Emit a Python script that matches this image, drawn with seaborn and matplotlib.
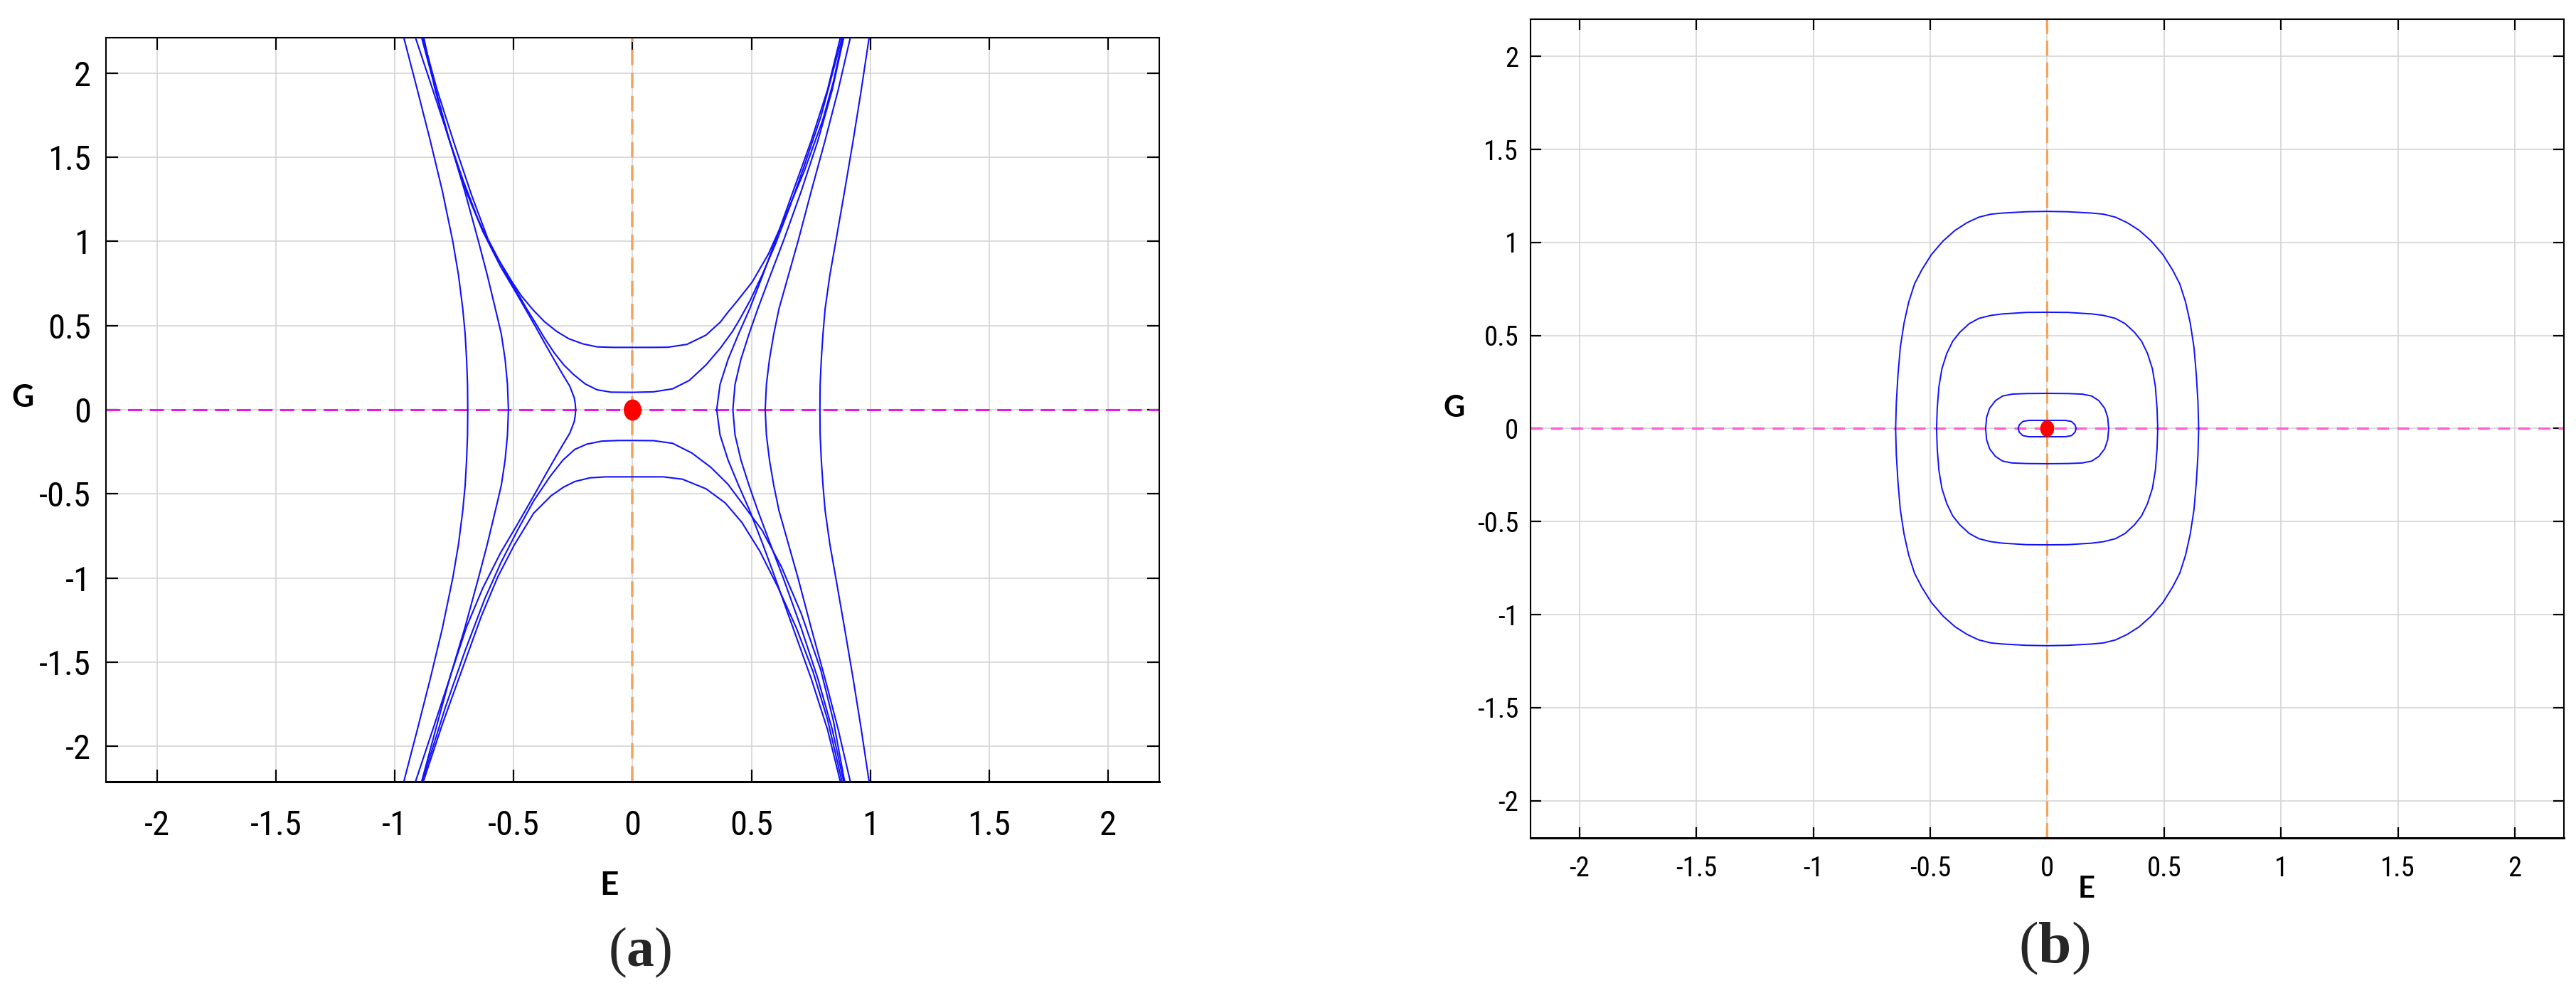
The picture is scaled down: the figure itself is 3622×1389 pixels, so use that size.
import pandas as pd
import matplotlib
matplotlib.use("Agg")
import matplotlib.pyplot as plt
import matplotlib.transforms as mtransforms
from matplotlib import font_manager
from matplotlib.path import Path
import seaborn as sns

# ---- data ----------------------------------------------------------------
TICKS = [-2, -1.5, -1, -0.5, 0, 0.5, 1, 1.5, 2]
TICK_LABELS = ["-2", "-1.5", "-1", "-0.5", "0", "0.5", "1", "1.5", "2"]

# panel (a): sideways branches, sampled on common G levels
a_side_G = [2.21, 1.9, 1.6, 1.3, 1.0, 0.8, 0.6, 0.45, 0.3, 0.15, 0.0,
            -0.15, -0.3, -0.45, -0.6, -0.8, -1.0, -1.3, -1.6, -1.9, -2.21]
a_left1_E = [-0.962, -0.905, -0.851, -0.800, -0.756, -0.732, -0.714, -0.704, -0.698, -0.694, -0.693,
             -0.694, -0.698, -0.704, -0.714, -0.732, -0.756, -0.800, -0.851, -0.905, -0.962]
a_left2_E = [-0.913, -0.840, -0.770, -0.706, -0.648, -0.611, -0.577, -0.552, -0.536, -0.526, -0.522,
             -0.526, -0.536, -0.552, -0.577, -0.611, -0.648, -0.706, -0.770, -0.840, -0.913]
a_right1_E = [0.874, 0.820, 0.752, 0.676, 0.600, 0.548, 0.493, 0.446, 0.402, 0.368, 0.354,
              0.368, 0.402, 0.446, 0.493, 0.548, 0.600, 0.676, 0.752, 0.820, 0.874]
a_right2_E = [0.888, 0.840, 0.780, 0.710, 0.634, 0.580, 0.527, 0.490, 0.456, 0.431, 0.422,
              0.431, 0.456, 0.490, 0.527, 0.580, 0.634, 0.710, 0.780, 0.840, 0.888]
a_right3_E = [0.916, 0.865, 0.810, 0.752, 0.696, 0.656, 0.616, 0.594, 0.576, 0.563, 0.558,
              0.563, 0.576, 0.594, 0.616, 0.656, 0.696, 0.752, 0.810, 0.865, 0.916]
a_right4_E = [0.995, 0.962, 0.928, 0.892, 0.855, 0.830, 0.810, 0.801, 0.794, 0.789, 0.788,
              0.789, 0.794, 0.801, 0.810, 0.830, 0.855, 0.892, 0.928, 0.962, 0.995]

# inner sideways branch (vertex near E=-0.24)
a_left3_G = [2.21, 1.9, 1.59, 1.29, 1.06, 0.85, 0.69, 0.592, 0.493, 0.394, 0.295, 0.21, 0.14,
             0.07, 0.035, 0.0, -0.035, -0.07, -0.14, -0.21, -0.295, -0.394, -0.493, -0.592,
             -0.69, -0.85, -1.06, -1.29, -1.59, -1.9, -2.21]
a_left3_E = [-0.887, -0.828, -0.768, -0.698, -0.630, -0.555, -0.488, -0.448, -0.408, -0.369,
             -0.329, -0.294, -0.264, -0.245, -0.241, -0.239, -0.241, -0.245, -0.264, -0.294,
             -0.329, -0.369, -0.408, -0.448, -0.488, -0.555, -0.630, -0.698, -0.768, -0.828,
             -0.887]

# upper branches
a_up1_E = [-0.878, -0.830, -0.775, -0.712, -0.649, -0.590, -0.538, -0.508, -0.468, -0.418,
           -0.369, -0.319, -0.269, -0.209, -0.149, -0.08, 0.0, 0.08, 0.149, 0.229, 0.309,
           0.369, 0.400, 0.440, 0.504, 0.572, 0.641, 0.723, 0.800, 0.845, 0.885]
a_up1_G = [2.21, 1.9, 1.62, 1.36, 1.129, 0.95, 0.833, 0.762, 0.677, 0.592,
           0.521, 0.465, 0.422, 0.391, 0.373, 0.370, 0.370, 0.370, 0.371, 0.388, 0.443,
           0.52, 0.577, 0.645, 0.76, 0.926, 1.144, 1.42, 1.72, 1.95, 2.21]
a_up2_E = [-0.882, -0.822, -0.752, -0.677, -0.608, -0.528, -0.488, -0.448, -0.408, -0.369,
           -0.329, -0.289, -0.249, -0.199, -0.149, -0.09, 0.0, 0.088, 0.169, 0.239, 0.309,
           0.369, 0.420, 0.450, 0.495, 0.545, 0.600, 0.660, 0.720, 0.792, 0.881]
a_up2_G = [2.21, 1.9, 1.59, 1.275, 1.013, 0.797, 0.705, 0.606, 0.514, 0.422,
           0.337, 0.266, 0.21, 0.153, 0.118, 0.104, 0.103, 0.106, 0.124, 0.174, 0.266,
           0.365, 0.464, 0.535, 0.65, 0.80, 0.98, 1.20, 1.44, 1.74, 2.21]

# lower branches
a_dn1_E = [-0.885, -0.787, -0.704, -0.622, -0.553, -0.484, -0.416, -0.347, -0.293, -0.243,
           -0.193, -0.13, -0.06, 0.0, 0.088, 0.169, 0.249, 0.329, 0.400, 0.460, 0.545,
           0.627, 0.710, 0.792, 0.845, 0.892]
a_dn1_G = [-2.21, -1.767, -1.431, -1.125, -0.907, -0.717, -0.542, -0.397, -0.30, -0.236,
           -0.205, -0.187, -0.183, -0.183, -0.184, -0.20, -0.257, -0.342, -0.441, -0.554,
           -0.717, -0.936, -1.213, -1.548, -1.85, -2.21]
a_dn2_E = [-0.880, -0.800, -0.718, -0.636, -0.567, -0.498, -0.416, -0.343, -0.290, -0.243,
           -0.180, -0.112, 0.0, 0.129, 0.210, 0.309, 0.390, 0.460, 0.535, 0.610, 0.690,
           0.760, 0.820, 0.881]
a_dn2_G = [-2.21, -1.869, -1.548, -1.227, -0.994, -0.805, -0.615, -0.512, -0.46, -0.427,
           -0.405, -0.399, -0.399, -0.399, -0.413, -0.47, -0.554, -0.67, -0.84, -1.05,
           -1.30, -1.56, -1.84, -2.21]

# panel (b): closed orbits around the centre
b_orb1_E = [0.648, 0.645, 0.638, 0.628, 0.612, 0.592, 0.567, 0.536, 0.495, 0.445, 0.394,
            0.343, 0.292, 0.241, 0.19, 0.089, 0.0,
            -0.089, -0.19, -0.241, -0.292, -0.343, -0.394, -0.445, -0.495, -0.536, -0.567,
            -0.592, -0.612, -0.628, -0.638, -0.645, -0.648,
            -0.645, -0.638, -0.628, -0.612, -0.592, -0.567, -0.536, -0.495, -0.445, -0.394,
            -0.343, -0.292, -0.241, -0.19, -0.089, 0.0,
            0.089, 0.19, 0.241, 0.292, 0.343, 0.394, 0.445, 0.495, 0.536, 0.567,
            0.592, 0.612, 0.628, 0.638, 0.645, 0.648]
b_orb1_G = [0.0, 0.142, 0.288, 0.436, 0.567, 0.680, 0.778, 0.853, 0.935, 1.008, 1.065,
            1.106, 1.136, 1.152, 1.158, 1.165, 1.167,
            1.165, 1.158, 1.152, 1.136, 1.106, 1.065, 1.008, 0.935, 0.853, 0.778,
            0.680, 0.567, 0.436, 0.288, 0.142, 0.0,
            -0.142, -0.288, -0.436, -0.567, -0.680, -0.778, -0.853, -0.935, -1.008, -1.065,
            -1.106, -1.136, -1.152, -1.158, -1.165, -1.167,
            -1.165, -1.158, -1.152, -1.136, -1.106, -1.065, -1.008, -0.935, -0.853, -0.778,
            -0.680, -0.567, -0.436, -0.288, -0.142, 0.0]
b_orb2_E = [0.473, 0.470, 0.463, 0.450, 0.429, 0.404, 0.373, 0.333, 0.292, 0.241, 0.19, 0.089, 0.0,
            -0.089, -0.19, -0.241, -0.292, -0.333, -0.373, -0.404, -0.429, -0.450, -0.463, -0.470,
            -0.473,
            -0.470, -0.463, -0.450, -0.429, -0.404, -0.373, -0.333, -0.292, -0.241, -0.19, -0.089,
            0.0,
            0.089, 0.19, 0.241, 0.292, 0.333, 0.373, 0.404, 0.429, 0.450, 0.463, 0.470, 0.473]
b_orb2_G = [0.0, 0.109, 0.224, 0.322, 0.404, 0.469, 0.518, 0.564, 0.592, 0.608, 0.616, 0.624, 0.625,
            0.624, 0.616, 0.608, 0.592, 0.564, 0.518, 0.469, 0.404, 0.322, 0.224, 0.109,
            0.0,
            -0.109, -0.224, -0.322, -0.404, -0.469, -0.518, -0.564, -0.592, -0.608, -0.616, -0.624,
            -0.625,
            -0.624, -0.616, -0.608, -0.592, -0.564, -0.518, -0.469, -0.404, -0.322, -0.224, -0.109,
            0.0]
b_orb3_E = [0.263, 0.259, 0.246, 0.221, 0.19, 0.15, 0.089, 0.0, -0.089, -0.15, -0.19, -0.221,
            -0.246, -0.259, -0.263, -0.259, -0.246, -0.221, -0.19, -0.15, -0.089, 0.0, 0.089,
            0.15, 0.19, 0.221, 0.246, 0.259, 0.263]
b_orb3_G = [0.0, 0.06, 0.109, 0.15, 0.175, 0.185, 0.188, 0.189, 0.188, 0.185, 0.175, 0.15,
            0.109, 0.06, 0.0, -0.06, -0.109, -0.15, -0.175, -0.185, -0.188, -0.189, -0.188,
            -0.185, -0.175, -0.15, -0.109, -0.06, 0.0]
b_orb4_E = [0.124, 0.119, 0.104, 0.078, 0.0, -0.078, -0.104, -0.119, -0.124, -0.119, -0.104,
            -0.078, 0.0, 0.078, 0.104, 0.119, 0.124]
b_orb4_G = [0.0, 0.02, 0.038, 0.044, 0.044, 0.044, 0.038, 0.02, 0.0, -0.02, -0.038,
            -0.044, -0.044, -0.044, -0.038, -0.02, 0.0]

EQUILIBRIUM = (0.0, 0.0)

# ---- styling -------------------------------------------------------------
sns.set_theme(style="whitegrid")

installed = {f.name for f in font_manager.fontManager.ttflist}
narrow = next((n for n in ["Liberation Sans Narrow", "Arial Narrow", "Roboto Condensed",
                           "Open Sans Condensed"] if n in installed), "Liberation Sans")
plt.rcParams["font.family"] = [narrow, "Liberation Sans", "DejaVu Sans"]
plt.rcParams["font.stretch"] = "condensed"
plt.rcParams["mathtext.fontset"] = "custom"
plt.rcParams["mathtext.rm"] = "Liberation Serif"
plt.rcParams["mathtext.bf"] = "Liberation Serif:bold"

BLUE = "#1010ff"
GRID = "#d4d4d4"


def style_axes(ax, lim_x, lim_y, tick_size, pad_x, pad_y, tick_len):
    ax.set_xlim(-lim_x, lim_x)
    ax.set_ylim(-lim_y, lim_y)
    ax.set_xticks(TICKS)
    ax.set_yticks(TICKS)
    ax.set_xticklabels(TICK_LABELS)
    ax.set_yticklabels(TICK_LABELS)
    ax.set_facecolor("white")
    ax.grid(True, color=GRID, linewidth=1.2)
    ax.set_axisbelow(True)
    for s in ax.spines.values():
        s.set_color("black")
        s.set_linewidth(1.5)
        s.set_visible(True)
    ax.spines["bottom"].set_linewidth(2.2)
    ax.tick_params(which="both", direction="in", top=True, right=True, bottom=True,
                   left=True, length=tick_len, width=1.6, color="black",
                   labelcolor="black", labelsize=tick_size)
    ax.tick_params(axis="x", pad=pad_x)
    ax.tick_params(axis="y", pad=pad_y)
    ax.set_xlabel("")
    ax.set_ylabel("")


def draw_curve(ax, e_vals, g_vals, lw):
    df = pd.DataFrame({"E": e_vals, "G": g_vals})
    sns.lineplot(data=df, x="E", y="G", ax=ax, sort=False, estimator=None,
                 color=BLUE, linewidth=lw, zorder=3)


ellipse = Path.unit_circle().transformed(mtransforms.Affine2D().scale(1.0, 1.2))

fig = plt.figure(figsize=(36.22, 13.89), dpi=100)
ax_a = fig.add_axes([0.0411, 0.2088, 0.4089, 0.7531])
ax_b = fig.add_axes([0.5941, 0.1519, 0.4012, 0.8287])

# ---- panel (a) -----------------------------------------------------------
ax_a.axhline(0, color="#e619e6", linewidth=2.2, dashes=(6.5, 3.5), zorder=2)
ax_a.axvline(0, color="#f4a55c", linewidth=2.6, dashes=(6, 3), zorder=2)
for e_vals in [a_left1_E, a_left2_E, a_right1_E, a_right2_E, a_right3_E, a_right4_E]:
    draw_curve(ax_a, e_vals, a_side_G, 1.5)
draw_curve(ax_a, a_left3_E, a_left3_G, 1.5)
draw_curve(ax_a, a_up1_E, a_up1_G, 1.5)
draw_curve(ax_a, a_up2_E, a_up2_G, 1.5)
draw_curve(ax_a, a_dn1_E, a_dn1_G, 1.5)
draw_curve(ax_a, a_dn2_E, a_dn2_G, 1.5)
sns.scatterplot(x=[EQUILIBRIUM[0]], y=[EQUILIBRIUM[1]], ax=ax_a, marker=ellipse,
                s=21.5 ** 2, color="#ff0000", linewidth=0, zorder=5)
style_axes(ax_a, 2.215, 2.21, 35, 28, 15, 12)

# ---- panel (b) -----------------------------------------------------------
ax_b.axhline(0, color="#ff5fd2", linewidth=2.4, dashes=(5, 3.5), zorder=2)
ax_b.axvline(0, color="#f4a55c", linewidth=2.2, dashes=(7, 3), zorder=2)
draw_curve(ax_b, b_orb1_E, b_orb1_G, 1.4)
draw_curve(ax_b, b_orb2_E, b_orb2_G, 1.4)
draw_curve(ax_b, b_orb3_E, b_orb3_G, 1.4)
draw_curve(ax_b, b_orb4_E, b_orb4_G, 1.4)
sns.scatterplot(x=[EQUILIBRIUM[0]], y=[EQUILIBRIUM[1]], ax=ax_b, marker=ellipse,
                s=17 ** 2, color="#ff0000", linewidth=0, zorder=5)
style_axes(ax_b, 2.21, 2.2, 28, 18, 12, 11)

# ---- axis names and panel captions --------------------------------------
lab = dict(family=["Lato", "DejaVu Sans"], fontweight="bold", fontstretch="normal",
           color="black", ha="center", va="center")
fig.text(0.0088, 0.5975, "G", fontsize=31, **lab)
fig.text(0.2366, 0.1037, "E", fontsize=33, **lab)
fig.text(0.5646, 0.5868, "G", fontsize=30, **lab)
fig.text(0.8100, 0.1001, "E", fontsize=30, **lab)

fig.text(0.2485, 0.0360, r"$(\mathbf{a})$", fontsize=56, ha="center", va="center")
fig.text(0.7974, 0.0403, r"$(\mathbf{b})$", fontsize=60, ha="center", va="center")

fig.savefig("out.png", dpi=100, facecolor="white")
